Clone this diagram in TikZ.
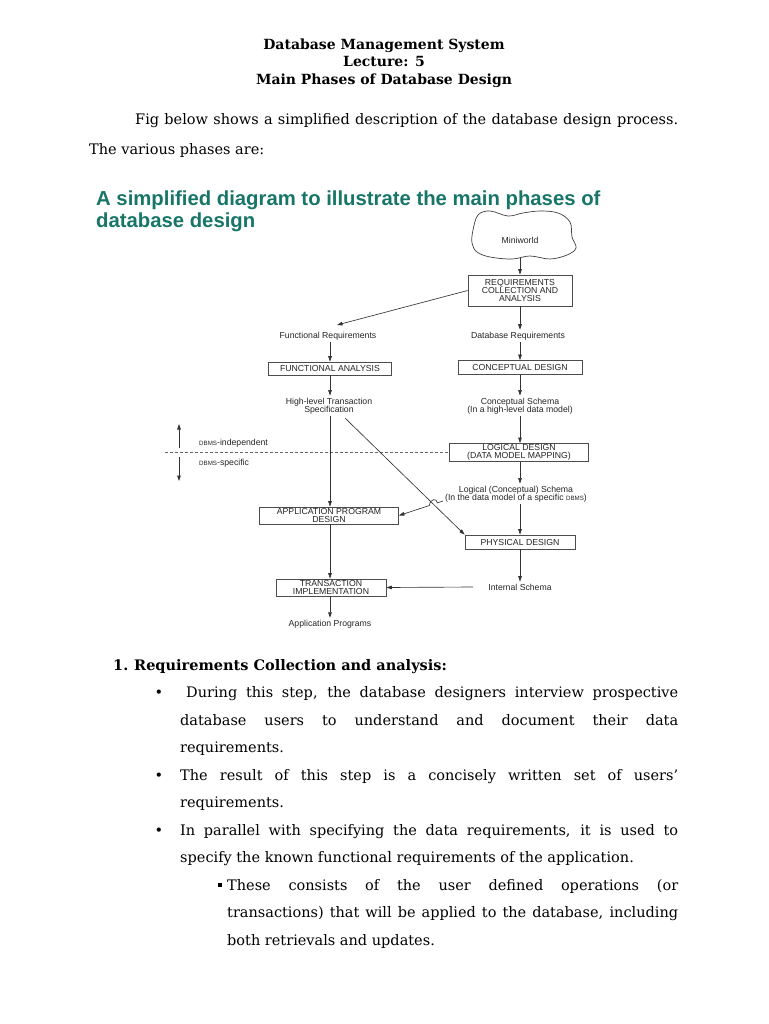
\documentclass[tikz,border=0pt]{standalone}
\usepackage{fontspec}
\setmainfont{DejaVu Serif}
\newfontfamily\dsans{Liberation Sans}
\usetikzlibrary{arrows.meta}
\definecolor{teal1}{RGB}{24,118,104}
\newcommand\dbmssc{{\fontsize{6.2}{6}\selectfont DBMS}}
\newcommand\jline[2]{\makebox[#1pt][s]{#2}}
\begin{document}
\begin{tikzpicture}[x=1pt,y=-1pt,
  dtext/.style={font=\dsans\fontsize{8.7}{8.3}\selectfont, align=center, inner sep=2pt, text=black!85},
  dbox/.style={dtext, draw=black!70, line width=0.75pt, inner sep=1pt},
  arr/.style={draw=black!80, line width=0.65pt, -{Triangle[length=5.5pt,width=3.6pt]}},
  body/.style={anchor=base west, inner sep=0pt, font=\fontsize{14.5}{17}\selectfont},
  head/.style={anchor=base, inner sep=0pt, font=\bfseries\fontsize{14}{16}\selectfont},
  ttl/.style={anchor=base west, inner sep=0pt, font=\dsans\bfseries\fontsize{20.3}{22}\selectfont, text=teal1},
]
\useasboundingbox (0,0) rectangle (768,1024);
\fill[white] (0,0) rectangle (768,1024);

% header
\node[head] (h1) at (384,50) {Database Management System};
\node[head] (h2) at (384,67) {Lecture: 5};
\node[head] (h3) at (384,85) {Main Phases of Database Design};

\node[body] (p1) at (135,125) {\jline{543}{Fig below shows a simplified description of the database design process.}};
\node[body] (p2) at (89,155) {The various phases are:};

% diagram title
\node[ttl] (t1) at (96,206) {A simplified diagram to illustrate the main phases of};
\node[ttl] (t2) at (96,227) {database design};

% cloud
\draw[draw=black!75, line width=0.7pt] plot[smooth cycle, tension=0.6] coordinates {
 (473,230) (478,215) (490,211) (508,216) (523,213) (540,211) (558,213) (570,222)
 (572,237) (576,248) (567,255) (550,259) (530,256) (512,259) (490,257) (477,252) (472,243)};
\node[dtext] (mw) at (520,240) {Miniworld};
\coordinate (cloudb) at (520,258);

% right column
\node[dbox, minimum width=104pt, minimum height=31pt] (rca) at (520,290.5) {REQUIREMENTS\\COLLECTION AND\\ANALYSIS};
\node[dtext] (dbr) at (518,336) {Database Requirements};
\node[dbox, minimum width=124pt, minimum height=14pt] (cd) at (520,367.5) {CONCEPTUAL DESIGN};
\node[dtext] (cs) at (520,406) {Conceptual Schema\\(In a high-level data model)};
\node[dbox, minimum width=139pt, minimum height=17pt] (logd) at (519,452.5) {LOGICAL DESIGN\\(DATA MODEL MAPPING)};
\node[dtext] (lcs) at (516,494) {Logical (Conceptual) Schema\\(In the data model of a specific \dbmssc)};
\node[dbox, minimum width=110pt, minimum height=14pt] (phys) at (520,542) {PHYSICAL DESIGN};
\node[dtext] (ints) at (520,587) {Internal Schema};

% left column
\node[dtext] (fr) at (328,336) {Functional Requirements};
\node[dbox, minimum width=123pt, minimum height=13pt] (fa) at (330,368.5) {FUNCTIONAL ANALYSIS};
\node[dtext] (hts) at (329,406) {High-level Transaction\\Specification};
\node[dbox, minimum width=139pt, minimum height=17pt] (apd) at (329,515.5) {APPLICATION PROGRAM\\DESIGN};
\node[dbox, minimum width=110pt, minimum height=17pt] (trans) at (331,587.5) {TRANSACTION\\IMPLEMENTATION};
\node[dtext] (apg) at (330,624) {Application Programs};

% dbms independent/specific
\node[dtext, anchor=west, inner sep=0pt] (dind) at (199,443) {\dbmssc-independent};
\node[dtext, anchor=west, inner sep=0pt] (dspec) at (199,463) {\dbmssc-specific};
\coordinate (ua1) at (179,448);
\coordinate (ua2) at (179,424);
\coordinate (da1) at (179,457);
\coordinate (da2) at (179,481);
\coordinate (dl) at (165,452.5);
\draw[arr] (ua1) -- (ua2);
\draw[arr] (da1) -- (da2);
\draw[draw=black!60, line width=0.5pt, dash pattern=on 3pt off 2pt] (dl) -- (logd.west);

% connectors right
\draw[arr] (cloudb) -- (rca.north);
\draw[arr] (rca.south) -- (rca.south |- dbr.north);
\draw[arr] (rca.south |- dbr.south) -- (rca.south |- cd.north);
\draw[arr] (cd.south) -- (cd.south |- cs.north);
\draw[arr] (cd.south |- cs.south) -- (cd.south |- logd.north);
\draw[arr] (cd.south |- logd.south) -- (cd.south |- lcs.north);
\draw[arr] (cd.south |- lcs.south) -- (phys.north);
\draw[arr] (phys.south) -- (phys.south |- ints.north);
\draw[arr] ([xshift=-13pt]ints.west) -- (trans.east);

% connectors left
\coordinate (frtip) at (337,325);
\draw[arr] (rca.west) -- (frtip);
\draw[arr] (fa.north |- fr.south) -- (fa.north);
\draw[arr] (fa.south) -- (fa.south |- hts.north);
\draw[arr] (fa.south |- hts.south) -- (fa.south |- apd.north);
\draw[arr] (fa.south |- apd.south) -- (fa.south |- trans.north);
\draw[arr] (fa.south |- trans.south) -- (fa.south |- apg.north);

% diagonal and hop
\coordinate (ds) at (345,418);
\draw[arr] (ds) -- (phys.north west);
\coordinate (ls) at (443,501);
\draw[arr] (ls) -- (437.4,502.9) .. controls (437,497.8) and (430,498.5) .. (429.4,505.5) -- (apd.east);

% body text
\node[body, font=\bfseries\fontsize{14.5}{17}\selectfont] (n1) at (113,670) {1.};
\node[body, font=\bfseries\fontsize{14.5}{17}\selectfont] (n1t) at (134,670) {Requirements Collection and analysis:};

\node[body, anchor=base] (b1) at (159,697) {\textbullet};
\node[body] (l1) at (186,697) {\jline{492}{During this step, the database designers interview prospective}};
\node[body] (l2) at (180,725) {\jline{498}{database users to understand and document their data}};
\node[body] (l3) at (180,752) {requirements.};
\node[body, anchor=base] (b2) at (159,780) {\textbullet};
\node[body] (l4) at (180,780) {\jline{498}{The result of this step is a concisely written set of users’}};
\node[body] (l5) at (180,807) {requirements.};
\node[body, anchor=base] (b3) at (159,835) {\textbullet};
\node[body] (l6) at (180,835) {\jline{498}{In parallel with specifying the data requirements, it is used to}};
\node[body] (l7) at (180,862) {specify the known functional requirements of the application.};
\node[fill=black, inner sep=0pt, minimum size=3.6pt] (sq) at (220,885) {};
\node[body] (l8) at (227,890) {\jline{451}{These consists of the user defined operations (or}};
\node[body] (l9) at (227,917) {\jline{451}{transactions) that will be applied to the database, including}};
\node[body] (l10) at (227,945) {both retrievals and updates.};
\end{tikzpicture}
\end{document}
